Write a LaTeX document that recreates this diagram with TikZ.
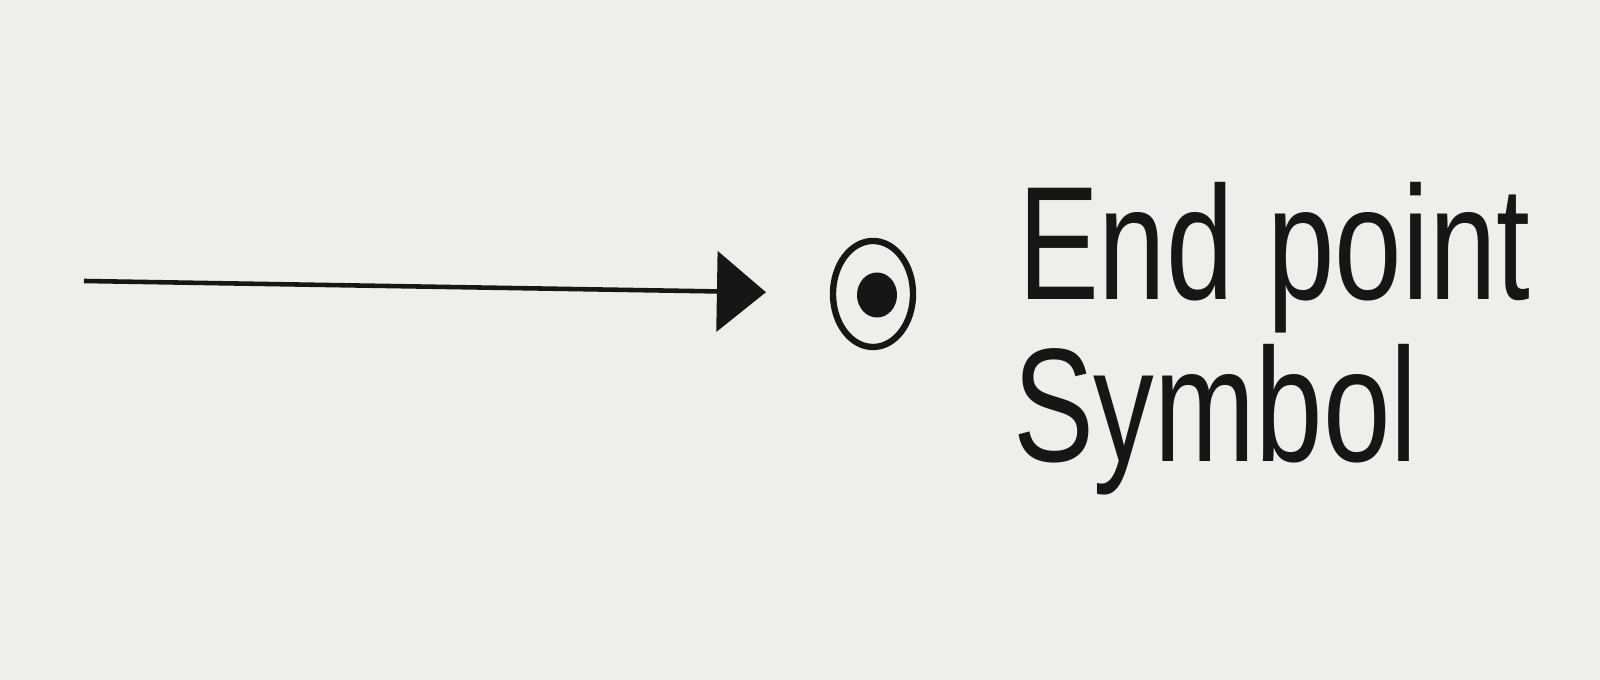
\documentclass[tikz,border=0pt]{standalone}
\usepackage{fontspec}
\setmainfont{Liberation Sans}
\usepackage{tikz}
\usetikzlibrary{arrows.meta,shapes.geometric,positioning}

\definecolor{paper}{RGB}{238,238,236}
\definecolor{ink}{RGB}{22,22,22}

\begin{document}
\begin{tikzpicture}[x=0.01cm,y=-0.01cm,
	every node/.style={inner sep=0pt,outer sep=0pt},
	wire/.style={draw=ink,line width=1.3pt,shorten >=0.67cm,
		-{Triangle[length=0.49cm,width=0.8cm]}},
	endring/.style={ellipse,draw=ink,line width=1.8pt,minimum width=0.8cm,minimum height=1.06cm},
	enddot/.style={ellipse,fill=ink,minimum width=0.4cm,minimum height=0.45cm},
	hand/.style={text=ink,anchor=base west,font=\fontsize{46}{50}\selectfont}]
	
	\fill[paper] (0,0) rectangle (1600,680);
	
	\coordinate (start) at (84,281);
	\node[endring] (sym) at (873,294) {};
	\node[enddot] (dot) at (877,295) {};
	
	\node[hand] (endtxt) at (1018,300) {\scalebox{0.75}[1]{End point}};
	\node[hand] (symtxt) at (1013,462) {\scalebox{0.75}[1]{Symbol}};
	
	\path[wire] (start) -- (sym);
	
\end{tikzpicture}
\end{document}
